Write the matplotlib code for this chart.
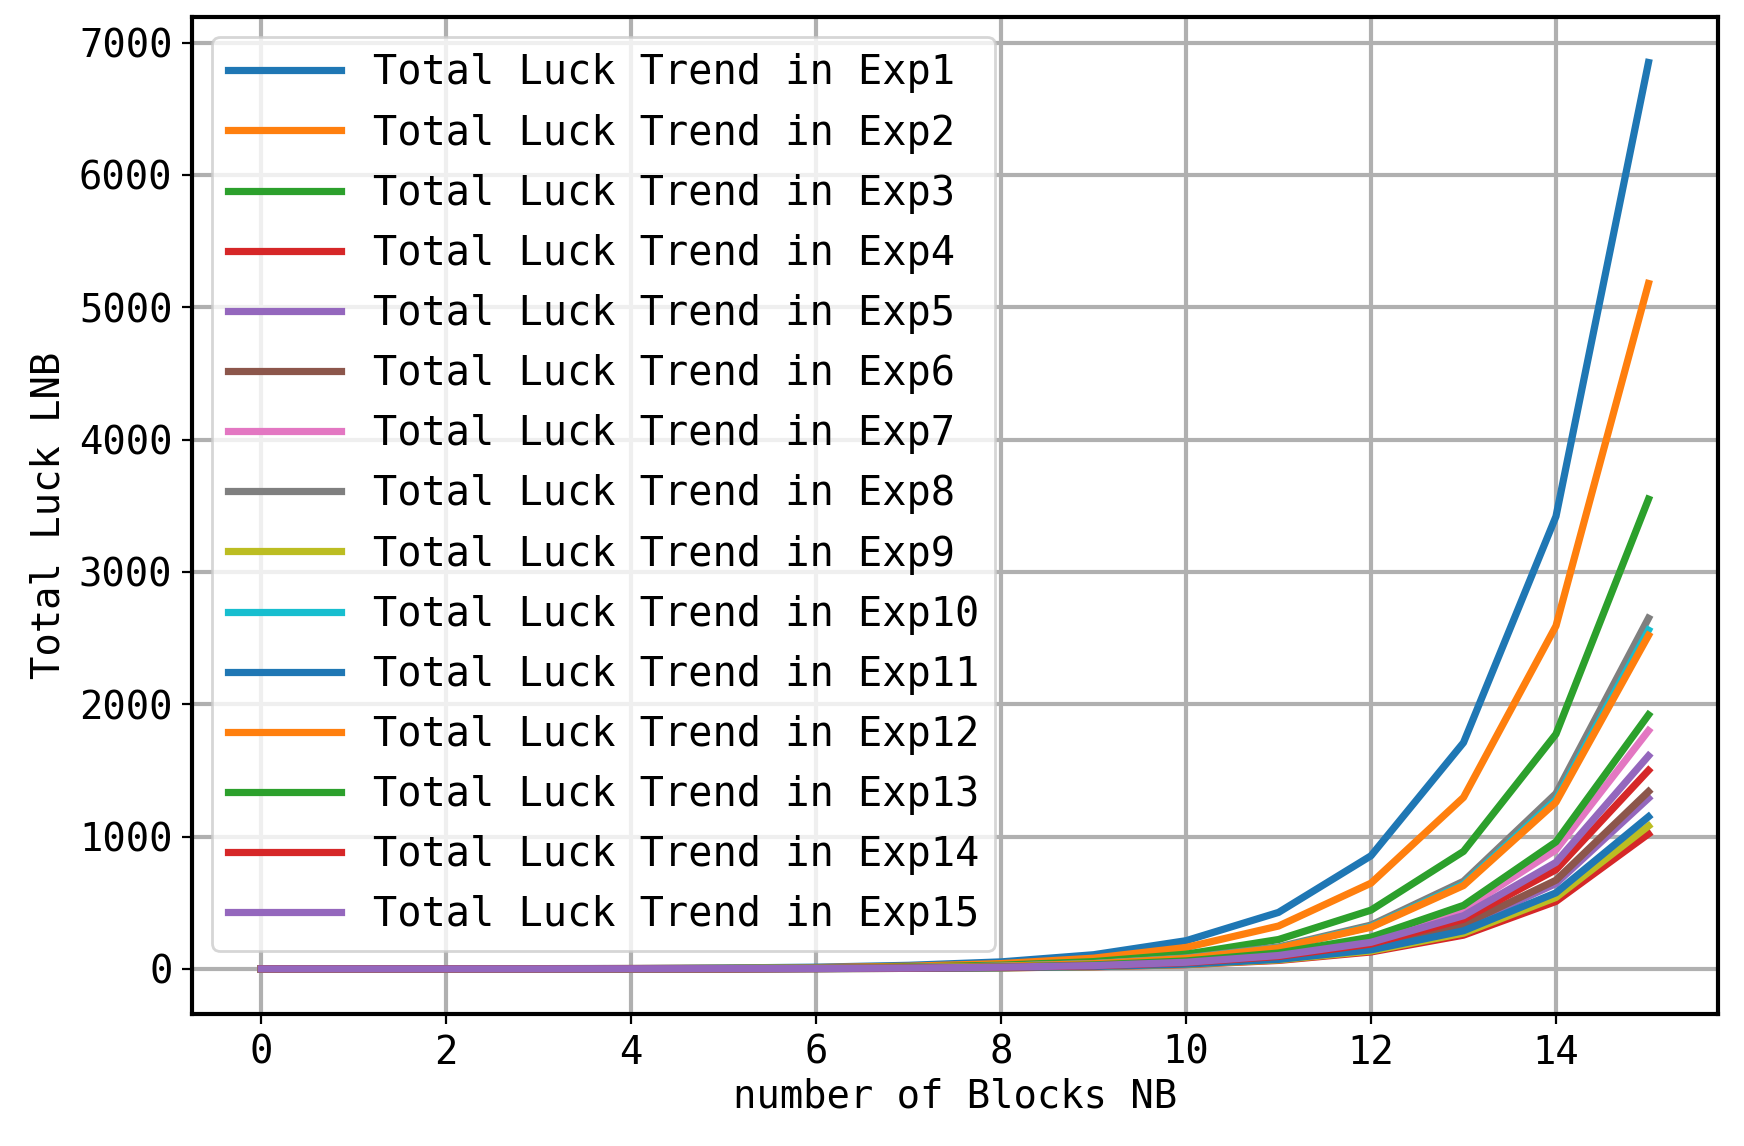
import numpy as np
import matplotlib
matplotlib.use('Agg')
import matplotlib.pyplot as plt

plt.rcParams['font.family'] = ['DejaVu Sans Mono']
plt.rcParams['font.size'] = 14

blocks = list(range(16))

exp_values = [
    [0, 0, 1, 2, 3, 7, 13, 27, 53, 107, 213, 427, 855, 1710, 3420, 6850],
    [0, 0, 1, 1, 3, 5, 10, 20, 40, 81, 162, 324, 648, 1296, 2592, 5180],
    [0, 0, 0, 1, 2, 3, 7, 14, 28, 55, 111, 222, 444, 888, 1775, 3550],
    [0, 0, 0, 0, 1, 1, 2, 4, 8, 16, 32, 64, 128, 255, 510, 1020],
    [0, 0, 0, 0, 1, 1, 3, 5, 10, 20, 40, 81, 161, 322, 645, 1290],
    [0, 0, 0, 0, 1, 1, 3, 5, 10, 21, 42, 84, 168, 335, 670, 1340],
    [0, 0, 0, 0, 1, 2, 4, 7, 14, 28, 56, 112, 225, 450, 900, 1800],
    [0, 0, 0, 1, 1, 3, 5, 10, 21, 41, 83, 166, 331, 662, 1325, 2650],
    [0, 0, 0, 0, 1, 1, 2, 4, 8, 17, 34, 68, 135, 270, 540, 1080],
    [0, 0, 0, 1, 1, 3, 5, 10, 20, 40, 80, 160, 320, 640, 1280, 2560],
    [0, 0, 0, 0, 1, 1, 2, 4, 9, 18, 36, 72, 144, 288, 575, 1150],
    [0, 0, 0, 1, 1, 2, 5, 10, 20, 39, 79, 158, 315, 630, 1260, 2520],
    [0, 0, 0, 0, 1, 2, 4, 8, 15, 30, 60, 120, 240, 480, 960, 1920],
    [0, 0, 0, 0, 1, 1, 3, 6, 12, 23, 47, 94, 188, 375, 750, 1500],
    [0, 0, 0, 0, 1, 2, 3, 6, 13, 25, 50, 101, 201, 402, 805, 1610],
]
labels = ["Total Luck Trend in Exp" + str(i + 1) for i in range(15)]

fig, ax = plt.subplots(figsize=(8.72, 5.73), dpi=200)
for vals, lab in zip(exp_values, labels):
    ax.plot(blocks, vals, linewidth=2.6, label=lab)

ax.grid(True, color='#b0b0b0', linewidth=1.5)
ax.set_axisbelow(True)
ax.set_xticks(range(0, 16, 2))
ax.set_yticks(range(0, 7001, 1000))
ax.set_xlabel("number of Blocks NB", labelpad=2)
ax.set_ylabel("Total Luck LNB")
for s in ax.spines.values():
    s.set_linewidth(1.5)
ax.legend(loc='upper left', fontsize=14.5, handlelength=2.8, labelspacing=0.5,
          borderpad=0.4, framealpha=0.8)
fig.subplots_adjust(left=0.11, right=0.985, bottom=0.115, top=0.985)
fig.savefig("out.png")
